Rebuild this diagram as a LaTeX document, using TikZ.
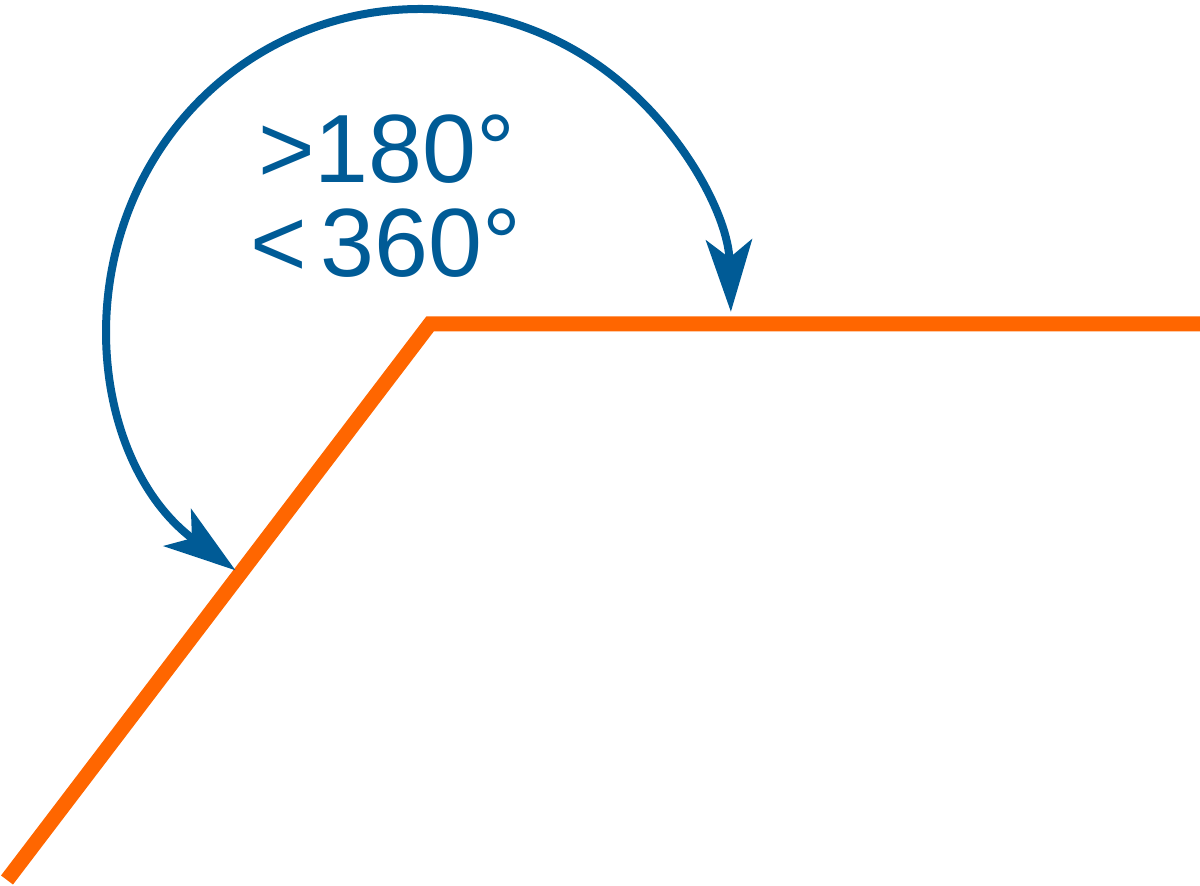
\documentclass[tikz,border=0pt]{standalone}
\usepackage{fontspec}
\newfontfamily\labfont{Liberation Sans}
\usetikzlibrary{arrows.meta}
\definecolor{lineorange}{RGB}{255,102,0}
\definecolor{arcblue}{RGB}{0,91,150}
\tikzset{
  edgeline/.style={draw=lineorange, line width=15pt, line join=miter, line cap=butt},
  anglearc/.style={draw=arcblue, line width=8pt,
    {Stealth[length=72pt, width=46pt, inset=18pt]}-{Stealth[length=72pt, width=46pt, inset=18pt]}},
  anglelabel/.style={text=arcblue, inner sep=0pt, anchor=base west,
    font=\labfont\fontsize{97pt}{100pt}\selectfont}
}
\begin{document}
\begin{tikzpicture}[x=1pt,y=1pt]
\useasboundingbox (0,0) rectangle (1200,886);
\coordinate (lowend) at (7,6);
\coordinate (vertex) at (430,562);
\coordinate (rightend) at (1200,562);
\coordinate (c) at (420,566);
\draw[edgeline] (lowend) -- (vertex) -- (rightend);
\draw[anglearc] (c) ++(233.6:311) arc[start angle=233.6, end angle=1.5, radius=311];
\node[anglelabel] (t1) at (258,703) {>180°};
\node[anglelabel] (t2) at (250,609) {<\hspace{14pt}360°};
\end{tikzpicture}
\end{document}
